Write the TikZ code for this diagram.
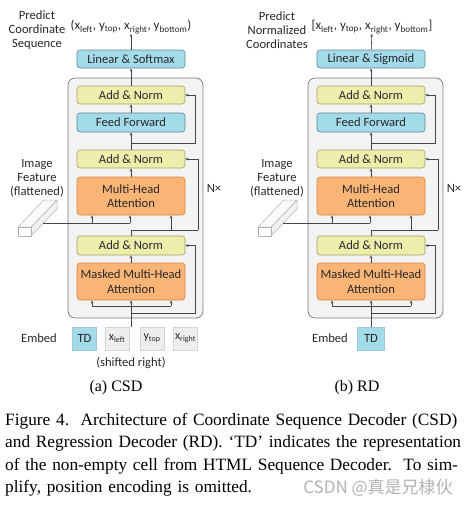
\documentclass[tikz,border=0pt]{standalone}
\usepackage{fontspec}
\setmainfont{Liberation Serif}
\newfontfamily\diag{Carlito}
\newfontfamily\cjk{Noto Sans CJK SC}
\usetikzlibrary{arrows.meta}
\definecolor{cyanF}{RGB}{163,219,232}
\definecolor{cyanD}{RGB}{95,135,148}
\definecolor{yelF}{RGB}{238,238,172}
\definecolor{yelD}{RGB}{160,160,105}
\definecolor{oraF}{RGB}{250,180,118}
\definecolor{oraD}{RGB}{215,135,65}
\definecolor{contF}{RGB}{243,243,243}
\definecolor{contD}{RGB}{125,125,125}
\definecolor{embF}{RGB}{238,238,238}
\definecolor{embD}{RGB}{212,212,212}
\definecolor{lineC}{RGB}{70,70,70}
\definecolor{txt}{RGB}{40,40,40}
\tikzset{
  blk/.style={draw, rounded corners=3pt, minimum width=108pt, minimum height=18pt,
    inner sep=0pt, line width=0.6pt, text=txt, align=center,
    font=\diag\fontsize{12.6}{14.5}\selectfont},
  cyanbox/.style={blk, fill=cyanF, draw=cyanD},
  yelbox/.style={blk, fill=yelF, draw=yelD},
  orabox/.style={blk, fill=oraF, draw=oraD},
  contbox/.style={draw=contD, fill=contF, rounded corners=7pt, line width=0.8pt,
    minimum width=135pt, minimum height=240pt, inner sep=0pt},
  embbox/.style={fill=embF, draw=embD, line width=0.5pt, minimum width=24pt,
    minimum height=23pt, inner sep=0pt, text=txt, font=\diag\fontsize{12}{14}\selectfont},
  tdbox/.style={embbox, fill=cyanF, draw=cyanF!85!gray, font=\diag\fontsize{12.6}{14}\selectfont},
  lbl/.style={font=\diag\fontsize{12.6}{14}\selectfont, align=center, inner sep=0pt, text=txt},
  conn/.style={draw=lineC, line width=0.6pt},
  arr/.style={conn, -{Stealth[length=3.2pt,width=2.6pt]}},
  prismedge/.style={draw=gray!60, line width=0.5pt, line join=round},
}
% #1 prefix, #2 linear text, #3 input node
\newcommand\decoderbody[3]{%
  \node[contbox] (#1cont) at (135.5,198) {};
  \node[cyanbox] (#1lin) at (131,59) {#2};
  \node[yelbox] (#1an1) at (131,95) {Add \& Norm};
  \node[cyanbox, minimum height=19pt] (#1ff) at (131,122.5) {Feed Forward};
  \node[yelbox] (#1an2) at (131,159) {Add \& Norm};
  \node[orabox, minimum height=38pt] (#1mha) at (131,196) {Multi-Head\\Attention};
  \node[yelbox, minimum height=19pt] (#1an3) at (131,245.5) {Add \& Norm};
  \node[orabox, minimum height=37pt] (#1mmha) at (131,281.5) {Masked Multi-Head\\Attention};
  \node[lbl] (#1N) at (214,188) {N×};
  \node[lbl] (#1img) at (37,178) {Image\\Feature\\(flattened)};
  % prism (image feature)
  \fill[white] (18,227) -- (44,200) -- (57,200) -- (57,209) -- (31,236) -- (18,236) -- cycle;
  \filldraw[prismedge, fill=gray!12] (31,227) -- (57,200) -- (57,209) -- (31,236) -- cycle;
  \filldraw[prismedge, fill=gray!4] (18,227) -- (44,200) -- (57,200) -- (31,227) -- cycle;
  \filldraw[prismedge, fill=white] (18,227) rectangle (31,236);
  \coordinate (#1feat) at (43,223);
  % connectors
  \draw[arr] (#1lin) -- (#1out);
  \draw[arr] (#1an1) -- (#1lin);
  \draw[arr] (#1ff) -- (#1an1);
  \draw[arr] (#1an2) -- (#1ff);
  \coordinate (#1s1) at (131,143);
  \coordinate (#1r1) at (195,143);
  \draw[arr] (#1s1) -- (#1r1) |- (#1an1.east);
  \draw[arr] (#1mha) -- (#1an2);
  \coordinate (#1s2) at (131,230);
  \coordinate (#1r2) at (198,230);
  \coordinate (#1q) at (171,230);
  \draw[conn] (#1an3.north) -- (#1s2) -- (#1r2);
  \draw[arr] (#1r2) |- (#1an2.east);
  \draw[arr] (#1q) -- (#1q |- #1mha.south);
  \coordinate (#1f1) at (92,223);
  \coordinate (#1f2) at (130,223);
  \draw[conn] (#1feat) -- (#1f2);
  \draw[arr] (#1f1) -- (#1f1 |- #1mha.south);
  \draw[arr] (#1f2) -- (#1f2 |- #1mha.south);
  \draw[arr] (#1an3 |- #1mmha.north) -- (#1an3);
  \draw[arr] (#3) -- (#1mmha);
  \coordinate (#1b1) at (92,306);
  \coordinate (#1b2) at (171,306);
  \draw[conn] (#1b1) -- (#1b2);
  \draw[arr] (#1b1) -- (#1b1 |- #1mmha.south);
  \draw[arr] (#1b2) -- (#1b2 |- #1mmha.south);
  \coordinate (#1c0) at (131,313);
  \coordinate (#1c1) at (195,313);
  \draw[arr] (#1c0) -- (#1c1) |- (#1an3.east);
}
\begin{document}
\begin{tikzpicture}[x=1pt, y=-1pt]
\useasboundingbox (0,0) rectangle (474,507);
% ---------- left panel: CSD ----------
\node[lbl] (Apred) at (37,30) {Predict\\Coordinate\\Sequence};
\node[lbl, font=\diag\fontsize{13}{15}\selectfont] (Aout) at (131,27)
  {(x\textsubscript{left}, y\textsubscript{top}, x\textsubscript{right}, y\textsubscript{bottom})};
\node[lbl] (Aemb) at (39,338.5) {Embed};
\node[tdbox] (Atd) at (84.5,338.5) {TD};
\node[embbox] (Axl) at (117,338.5) {x\textsubscript{left}};
\node[embbox] (Ayt) at (152,338.5) {y\textsubscript{top}};
\node[embbox] (Axr) at (185.5,338.5) {x\textsubscript{right}};
\coordinate (Ain) at (131,327);
\decoderbody{A}{Linear \& Softmax}{Ain}
\node[lbl] (Ashift) at (131,363) {(shifted right)};
\node[font=\fontsize{16}{18}\selectfont, inner sep=0pt] (Acap) at (116,388) {(a) CSD};
% ---------- right panel: RD ----------
\begin{scope}[xshift=240pt]
\node[lbl] (Bpred) at (37,30) {Predict\\Normalized\\Coordinates};
\node[lbl, font=\diag\fontsize{13}{15}\selectfont] (Bout) at (132,27)
  {[x\textsubscript{left}, y\textsubscript{top}, x\textsubscript{right}, y\textsubscript{bottom}]};
\node[lbl] (Bemb) at (90,338.5) {Embed};
\node[tdbox, minimum width=27pt] (Btd) at (131,338.5) {TD};
\decoderbody{B}{Linear \& Sigmoid}{Btd}
\node[font=\fontsize{16}{18}\selectfont, inner sep=0pt] (Bcap) at (117,388) {(b) RD};
\end{scope}
% ---------- caption ----------
\node[anchor=north west, inner sep=0pt, align=left, text width=465pt,
  font=\fontsize{17.3}{22.5}\selectfont] (cap) at (5,413) {%
\makebox[465pt][s]{Figure 4.\ \ Architecture of Coordinate Sequence Decoder (CSD)}\\
\makebox[465pt][s]{and Regression Decoder (RD). ‘TD’ indicates the representation}\\
\makebox[465pt][s]{of the non-empty cell from HTML Sequence Decoder.\ \ To sim-}\\
plify, position encoding is omitted.};
\node[font=\cjk\fontsize{17}{17}\selectfont, text=gray!60, inner sep=0pt] (wm) at (378,488) {CSDN @真是兄棣伙};
\end{tikzpicture}
\end{document}
